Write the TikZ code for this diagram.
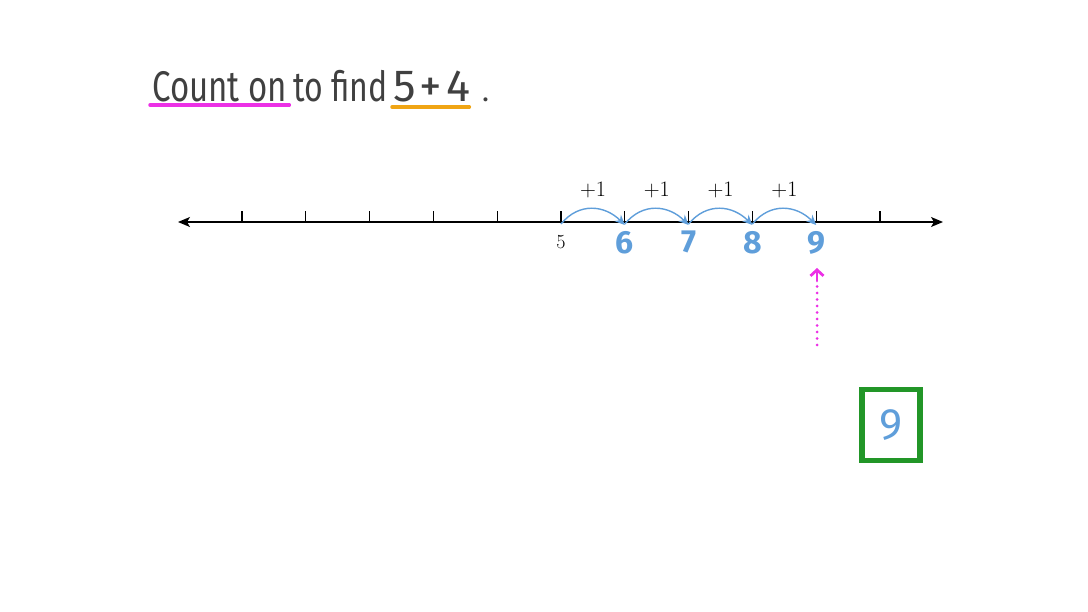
\documentclass[tikz,border=0pt]{standalone}
\usepackage{fontspec}
\usepackage{graphicx}
\newfontfamily\handfont{Fira Sans}
\usetikzlibrary{arrows.meta,positioning}
\definecolor{inkgray}{RGB}{64,64,64}
\definecolor{jumpblue}{RGB}{95,158,218}
\definecolor{hilitepink}{RGB}{236,48,230}
\definecolor{hiliteorange}{RGB}{240,165,20}
\definecolor{boxgreen}{RGB}{34,150,40}
\newcommand{\tall}[1]{\scalebox{1}[1.3]{#1}}
\tikzset{
  tick/.style={line width=1.3pt},
  jump/.style={jumpblue, line width=1.4pt, -{Stealth[length=10pt,width=9pt]}},
  steplabel/.style={font=\fontsize{22}{24}\selectfont, inner sep=1pt},
  bluenum/.style={text=jumpblue, font=\handfont\bfseries\fontsize{32}{34}\selectfont, inner sep=1pt},
  title/.style={anchor=base west, text=inkgray, inner sep=0pt},
}
\begin{document}
\begin{tikzpicture}[x=1pt, y=-1pt, >=Stealth]
\useasboundingbox (0,0) rectangle (1088,612);
% title
\node[title, font=\handfont\fontsize{33}{36}\selectfont] (count) at (152,102) {\tall{Count on}};
\node[title, font=\handfont\fontsize{32}{32}\selectfont] (find) at (293,102) {\tall{to find}};
\node[title, font=\handfont\fontsize{45}{48}\selectfont] (sum) at (393,102) {5\kern4pt+\kern4pt4};
\node[title, font=\handfont\fontsize{29}{30}\selectfont] (dot) at (482,102) {.};
\draw[hilitepink, line width=3.5pt, line cap=round] ([xshift=-2pt,yshift=-3pt]count.base west) -- ([xshift=2pt,yshift=-3pt]count.base east);
\draw[hiliteorange, line width=3.5pt, line cap=round] ([xshift=-1pt,yshift=-5pt]sum.base west) -- ([xshift=-1pt,yshift=-5pt]sum.base east);
% number line
\coordinate (left) at (178,222);
\coordinate (right) at (943,222);
\draw[line width=1.3pt, {Stealth[length=12pt,width=10pt,inset=3pt]}-{Stealth[length=12pt,width=10pt,inset=3pt]}] (left) -- (right);
\foreach \i in {0,...,10}
{
  \draw[tick] (242+63.8*\i,222) coordinate (t\i) -- (242+63.8*\i,211);
}
\node[below=12pt of t5, inner sep=1pt, font=\fontsize{20}{22}\selectfont] (five) {5};
\foreach \i/\n in {6/6,7/7,8/8,9/9}
{
  \node[bluenum, below=8pt of t\i] (n\n) {\n};
}
% jumps
\foreach \a/\b in {5/6,6/7,7/8,8/9}
{
  \draw[jump] ([yshift=-2pt]t\a) .. controls +(18,-22) and +(-20,-20) .. ([yshift=-3pt]t\b);
  \node[steplabel] (p\a) at (593+63.8*\a-319,190) {+1};
}
% pointer
\coordinate (ptrfoot) at (817,345);
\coordinate (ptrtip) at (817,268);
\draw[hilitepink, line width=3pt, line cap=round, dash pattern=on 0pt off 6.5pt] (ptrfoot) -- ([yshift=-17pt]ptrtip);
\draw[hilitepink, line width=2.8pt, line cap=round, -{Straight Barb[length=6pt,width=13pt]}] ([yshift=-13pt]ptrtip) -- (ptrtip);
% answer box
\node[draw=boxgreen, line width=5.5pt, minimum width=58pt, minimum height=71pt, inner sep=0pt, bluenum, font=\handfont\fontsize{44}{46}\selectfont] (answer) at (891,425) {9};
\end{tikzpicture}
\end{document}
